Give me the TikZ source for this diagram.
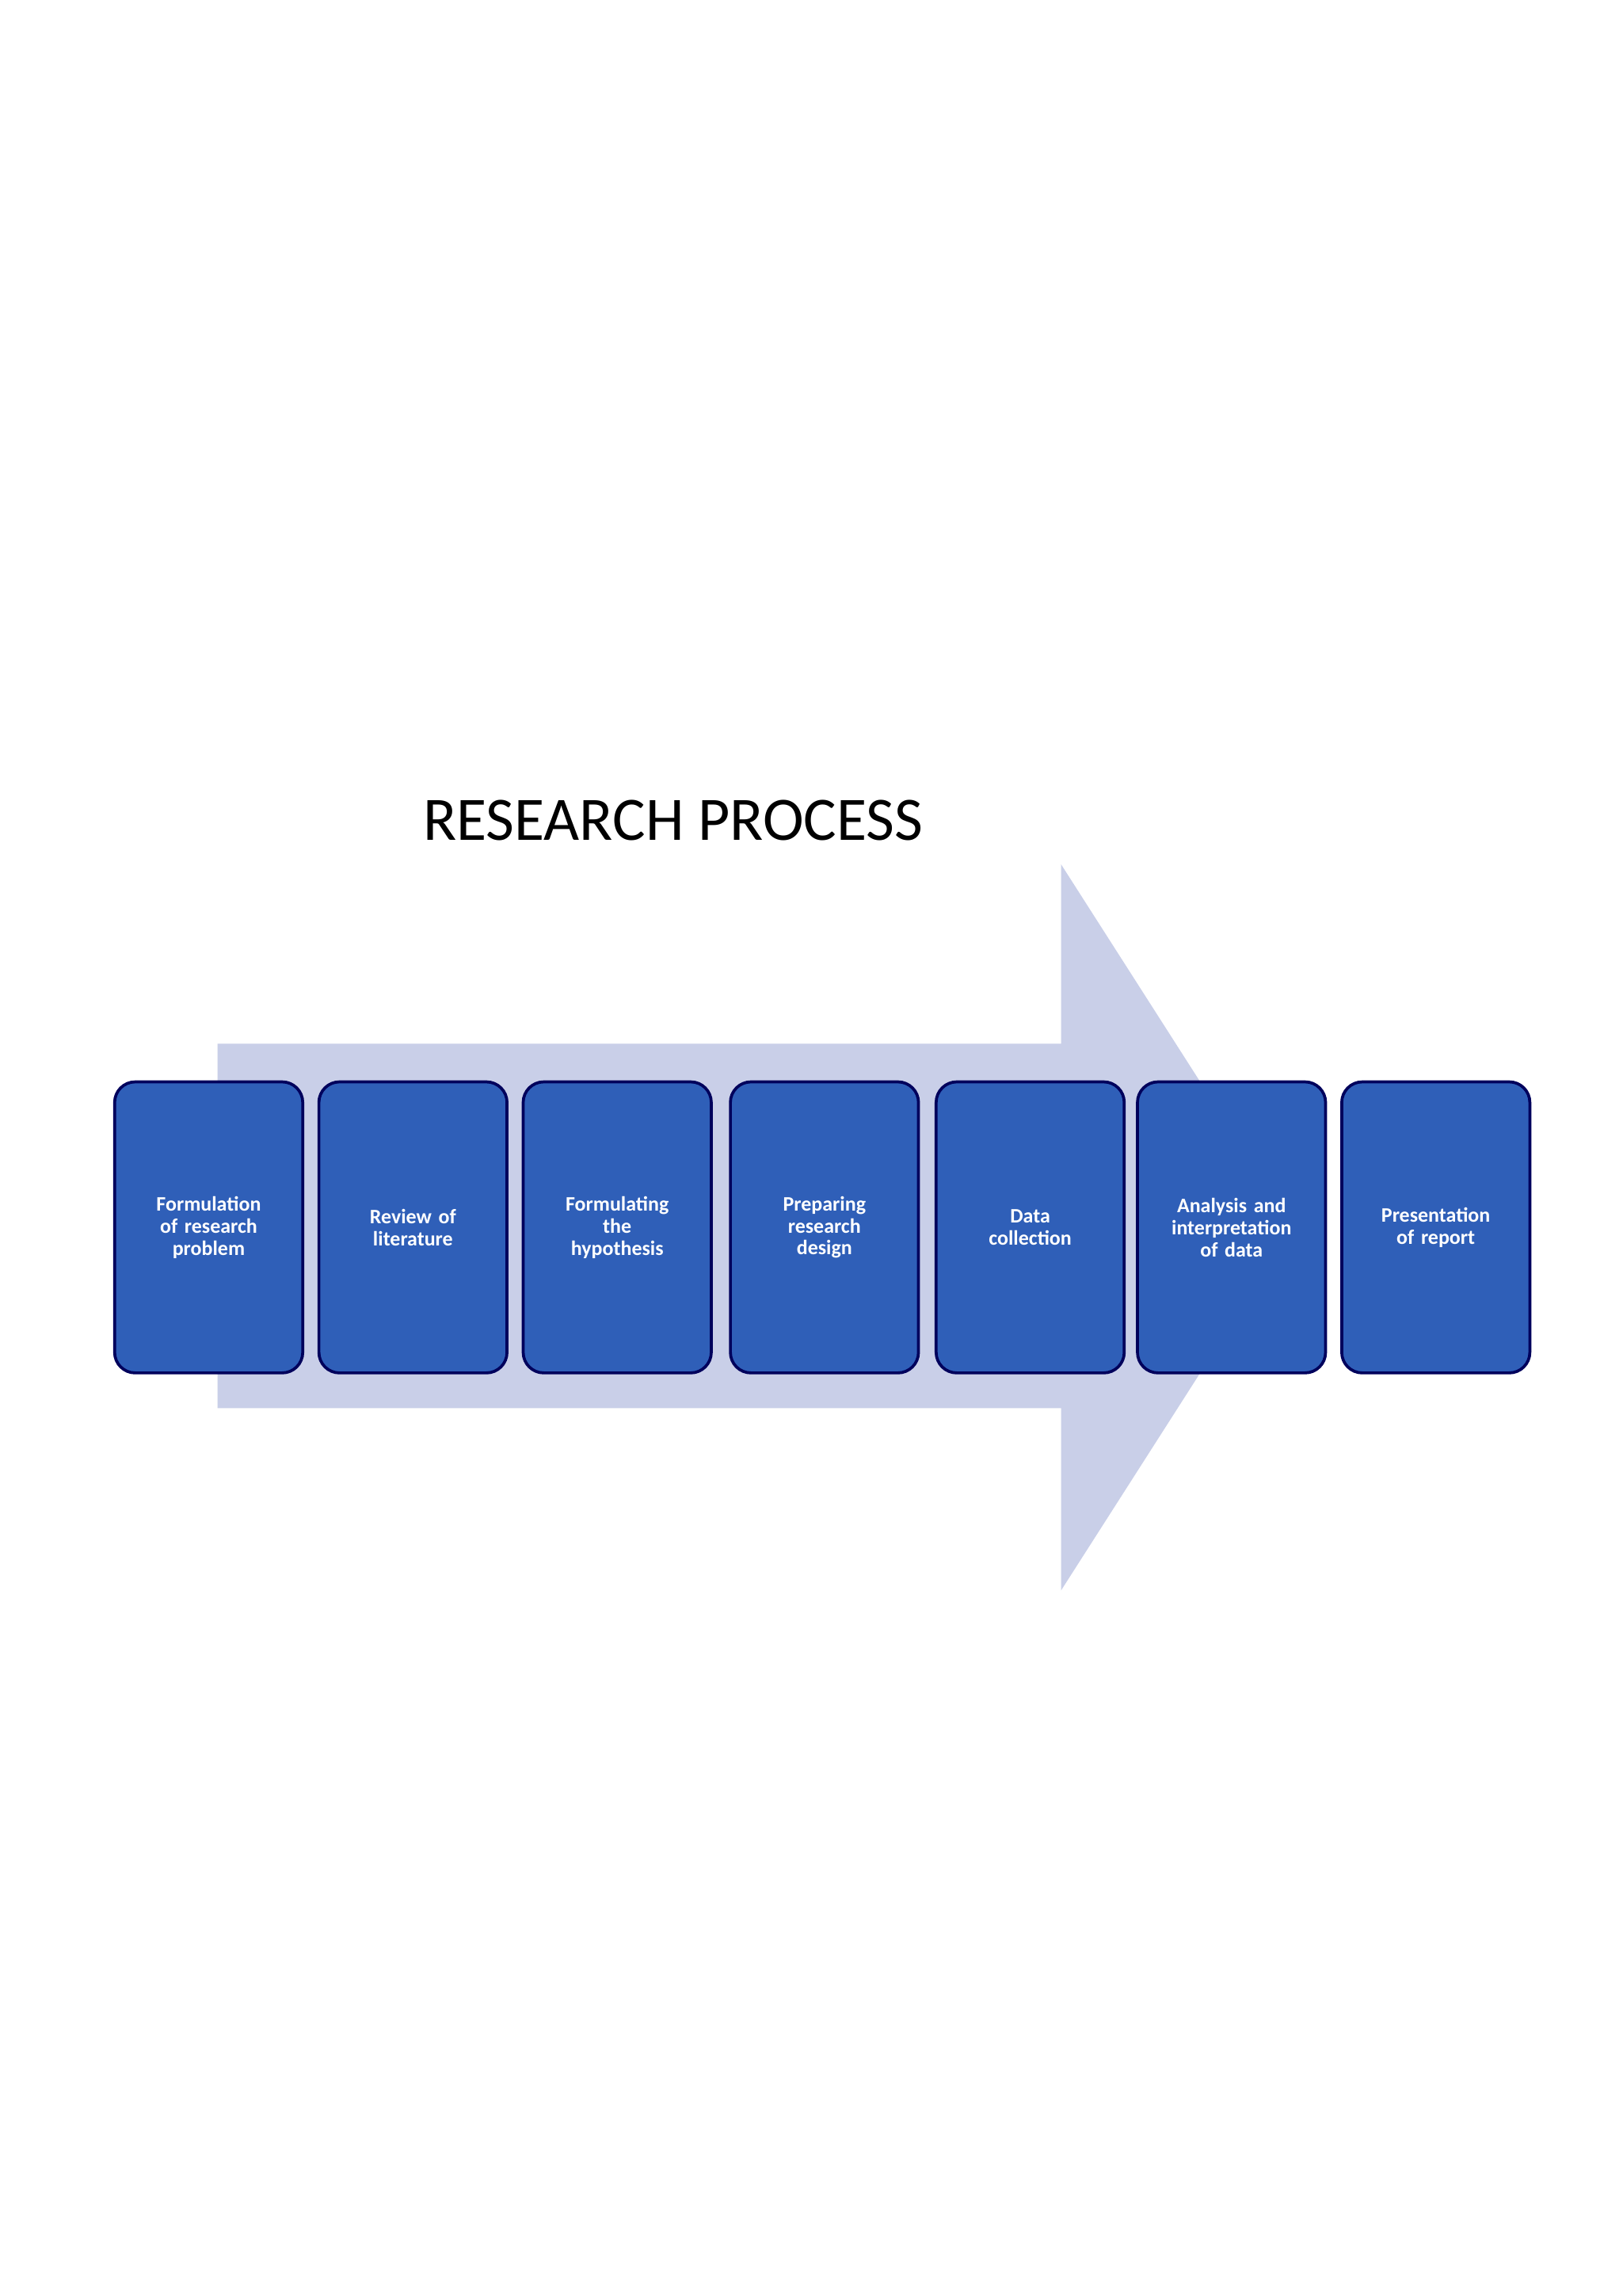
\documentclass[tikz,border=0pt]{standalone}
\usepackage{fontspec}
\setmainfont{Carlito}
\begin{document}
\begin{tikzpicture}[x=1pt,y=-1pt,
  stage/.style={draw=black!40!blue!60!black,line width=2pt,fill=boxblue,rounded corners=14pt,minimum width=128pt,minimum height=198pt,anchor=north west,inner sep=0pt,text=white,font=\bfseries\fontsize{14}{15}\selectfont,align=center,text width=110pt}]
\definecolor{boxblue}{HTML}{2F5FB8}
\definecolor{arrowc}{HTML}{C9CFE8}
\useasboundingbox (0,0) rectangle (1104,1562);
\fill[white] (0,0) rectangle (1104,1562);
\fill[arrowc] (148,710) -- (722,710) -- (722,588) -- (880,835) -- (722,1082) -- (722,958) -- (148,958) -- cycle;
\node (title) at (458,558) {\fontsize{42}{44}\selectfont RESEARCH PROCESS};
\node[stage] (s1) at (77,735) {Formulation\\of research\\problem};
\node[stage] (s2) at (216,735) {Review of\\literature};
\node[stage] (s3) at (355,735) {Formulating\\the\\hypothesis};
\node[stage] (s4) at (496,735) {Preparing\\research\\design};
\node[stage] (s5) at (636,735) {Data\\collection};
\node[stage] (s6) at (773,735) {Analysis and\\interpretation\\of data};
\node[stage] (s7) at (912,735) {Presentation\\of report};
\end{tikzpicture}
\end{document}
